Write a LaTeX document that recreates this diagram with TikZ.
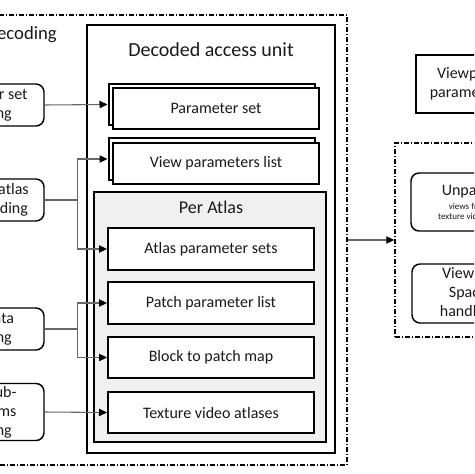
\documentclass[tikz,border=0pt]{standalone}
\usepackage{fontspec}
\setmainfont{Carlito}
\usetikzlibrary{arrows.meta,positioning}

\tikzset{
	dashdot/.style={draw, line width=1.1pt, dash pattern=on 3.75pt off 1.5pt on 0.75pt off 1.5pt},
	unit/.style={draw, line width=1.5pt, minimum width=154.5pt, minimum height=31pt},
	task/.style={draw, line width=1.1pt, rounded corners=6pt, minimum width=93pt, minimum height=31.5pt},
	link/.style={draw=black!60, line width=0.8pt},
	arr/.style={link, -{Triangle[length=6pt,width=5.5pt,color=black]}},
}

\begin{document}
\begin{tikzpicture}[x=0.75pt,y=-0.75pt,
	every node/.style={font=\fontsize{12}{14.3}\selectfont, text=black!90, inner sep=0pt, align=center}]
	\useasboundingbox (0,0) rectangle (474,474);
	\clip (0,0) rectangle (474,474);

	% decoding block
	\node[dashdot, minimum width=275.25pt, minimum height=337.5pt] (dec) at (163.5,240) {};
	\node[anchor=base east, font=\fontsize{14}{16}\selectfont] (dectitle) at (57,40) {Decoding};

	% decoded access unit
	\node[draw, line width=1.1pt, minimum width=186pt, minimum height=321pt] (dau) at (211,239) {};
	\node[anchor=base, font=\fontsize{15}{17}\selectfont] (dautitle) at (211,57) {Decoded access unit};
	\node[unit] (psback) at (211.5,104.5) {};
	\node[unit, fill=white] (ps) at (216,108.5) {Parameter set};
	\node[unit] (vpback) at (211.5,159) {};
	\node[unit, fill=white] (vp) at (216,163.5) {View parameters list};

	% per atlas
	\node[draw, line width=1.1pt, fill=black!6, minimum width=174pt, minimum height=187.5pt] (atlas) at (210,317) {};
	\node[anchor=base, font=\fontsize{13.5}{16}\selectfont] (atlastitle) at (211,213) {Per Atlas};
	\node[unit, fill=white] (aps) at (211,249) {Atlas parameter sets};
	\node[unit, fill=white] (pps) at (211,303) {Patch parameter list};
	\node[unit, fill=white] (b2p) at (211,357.5) {Block to patch map};
	\node[unit, fill=white] (tva) at (211,412.5) {Texture video atlases};

	% decoders
	\node[task] (psd) at (-18,105) {Parameter set\\decoding};
	\node[task] (cadd) at (-18,200) {Common atlas\\data decoding};
	\node[task] (add) at (-18,329) {Atlas data\\decoding};
	\node[task, minimum height=42.75pt] (vsd) at (-18,412) {Video sub-\\bitstreams\\decoding};

	% rendering side
	\node[draw, line width=1.1pt, minimum width=76.5pt, minimum height=43.5pt] (vpar) at (467,84) {Viewport\\parameters};
	\node[dashdot, minimum width=123.75pt, minimum height=145.5pt] (rend) at (477.5,240) {};
	\node[task, minimum width=97.5pt, minimum height=43.5pt] (unp) at (476,202)
		{Unpacking\\[-3.8pt]{\fontsize{6.75}{8}\selectfont views from the}\\[-7.5pt]{\fontsize{6.75}{8}\selectfont texture video atlases}};
	\node[task, minimum width=84pt, minimum height=44.25pt] (vsh) at (468,293.5) {Viewing\\Space\\handling};

	% connectors
	\draw[arr] (psd.east) -- (psback.west);
	\draw[link] (cadd.east) -- ++(33,0) coordinate (j1);
	\draw[arr] (j1) |- (vpback.west);
	\draw[arr] (j1) |- (aps.west);
	\draw[link] (add.east) -- ++(33,0) coordinate (j2);
	\draw[arr] (j2) |- (pps.west);
	\draw[arr] (j2) |- (b2p.west);
	\draw[arr] (vsd.east) -- (tva.west);
	\draw[arr] (dec.east) -- (rend.west);
\end{tikzpicture}
\end{document}
